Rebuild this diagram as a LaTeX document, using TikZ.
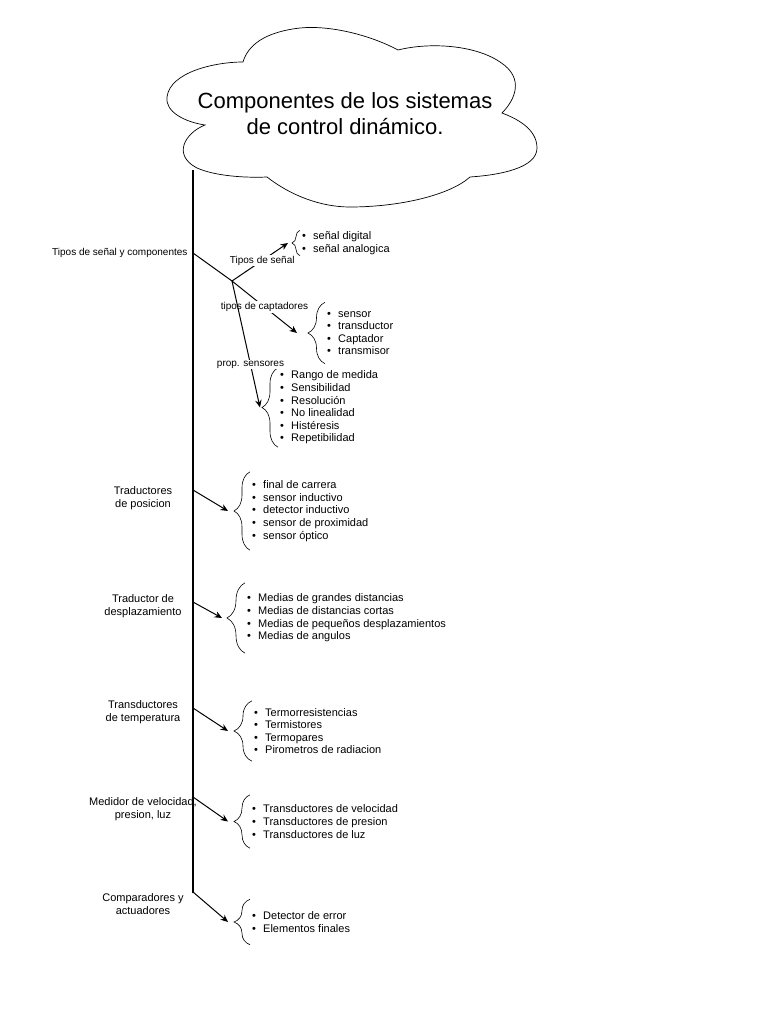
\documentclass[tikz,border=0pt]{standalone}
\usepackage{fontspec}
\setmainfont{Liberation Sans}
\usetikzlibrary{arrows.meta, decorations.pathreplacing, positioning}
\newcommand{\bul}{\makebox[11pt][l]{\textbullet}}

\begin{document}
\begin{tikzpicture}[x=1pt, y=-1pt,
    nube/.style={draw, line width=0.7pt},
    titulo/.style={align=center, font=\fontsize{22}{26}\selectfont},
    grupo/.style={align=center, font=\fontsize{11}{13}\selectfont},
    lista/.style={anchor=west, align=left, inner xsep=2pt, inner ysep=0pt, font=\fontsize{11}{12.6}\selectfont},
    etiq/.style={fill=white, inner sep=1pt, font=\fontsize{10}{12}\selectfont},
    arrow/.style={-{Stealth[length=7.5pt, width=6.5pt]}, line width=1pt},
    llave/.style={decorate, decoration={brace, amplitude=#1}, line width=0.6pt},
    llave/.default=16pt,
    tronco/.style={line width=2.2pt}
]
\useasboundingbox (0,0) rectangle (768,1024);

% nube del titulo
\path[nube] (243,62) .. controls (215,62) and (170,72) .. (167,97)
    .. controls (165,112) and (185,122) .. (205,125)
    .. controls (185,133) and (172,155) .. (197,168)
    .. controls (215,176) and (245,178) .. (267,177)
    .. controls (290,195) and (320,207) .. (350,207)
    .. controls (400,207) and (450,195) .. (470,177)
    .. controls (500,175) and (537,168) .. (537,148)
    .. controls (537,128) and (515,118) .. (502,113)
    .. controls (515,100) and (525,78) .. (500,62)
    .. controls (475,45) and (430,42) .. (398,50)
    .. controls (370,35) and (330,25) .. (300,28)
    .. controls (265,32) and (248,45) .. (243,62) -- cycle;
\node[titulo] (title) at (345,114) {Componentes de los sistemas\\de control dinámico.};
\coordinate (top) at (193,170);
\coordinate (bot) at (193,893);
\draw[tronco] (top) -- (bot);

% tipos de senal y componentes
\node[anchor=east, font=\fontsize{10}{12}\selectfont] (gTipos) at (191,253) {Tipos de señal y componentes};
\coordinate (t1) at (193,253);
\coordinate (jn) at (232,281);
\node[lista, minimum height=25] (senL) at (300,243) {\bul señal digital\\\bul señal analogica};
\node[lista, minimum height=61] (capL) at (325,333) {\bul sensor\\\bul transductor\\\bul Captador\\\bul transmisor};
\node[lista, minimum height=79] (propL) at (278,407.5) {\bul Rango de medida\\\bul Sensibilidad\\\bul Resolución\\\bul No linealidad\\\bul Histéresis\\\bul Repetibilidad};
\draw[llave=8pt] (senL.south west) -- (senL.north west);
\draw[llave=17pt] (capL.south west) -- (capL.north west);
\draw[llave] (propL.south west) -- (propL.north west);
\draw[arrow] (t1) -- (jn) -- node[etiq, pos=0.5] (eCap) {tipos de captadores} ([xshift=-28pt]capL.west);
\draw[arrow] (jn) -- node[etiq, pos=0.54] (eSen) {Tipos de señal} ([xshift=-12pt]senL.west);
\draw[arrow] (jn) -- node[etiq, pos=0.66] (eProp) {prop. sensores} ([xshift=-18pt]propL.west);

% traductores de posicion
\node[grupo] (gPos) at (143,498.5) {Traductores\\de posicion};
\coordinate (t2) at (193,490);
\node[lista, minimum height=78] (posL) at (250,511) {\bul final de carrera\\\bul sensor inductivo\\\bul detector inductivo\\\bul sensor de proximidad\\\bul sensor óptico};
\draw[llave] (posL.south west) -- (posL.north west);
\draw[arrow] (t2) -- ([xshift=-22pt]posL.west);

% traductor de desplazamiento
\node[grupo] (gDesp) at (143,606) {Traductor de\\desplazamiento};
\coordinate (t3) at (193,602);
\node[lista, minimum height=70] (despL) at (245,618) {\bul Medias de grandes distancias\\\bul Medias de distancias cortas\\\bul Medias de pequeños desplazamientos\\\bul Medias de angulos};
\draw[llave=18pt] (despL.south west) -- (despL.north west);
\draw[arrow] (t3) -- ([xshift=-23pt]despL.west);

% transductores de temperatura
\node[grupo] (gTemp) at (143,712.5) {Transductores\\de temperatura};
\coordinate (t4) at (193,708);
\node[lista, minimum height=60] (tempL) at (252,731) {\bul Termorresistencias\\\bul Termistores\\\bul Termopares\\\bul Pirometros de radiacion};
\draw[llave=18pt] (tempL.south west) -- (tempL.north west);
\draw[arrow] (t4) -- ([xshift=-24pt]tempL.west);

% medidor de velocidad, presion, luz
\node[grupo] (gVel) at (143,809.5) {Medidor de velocidad,\\presion, luz};
\coordinate (t5) at (193,797);
\node[lista, minimum height=53] (velL) at (250,821.5) {\bul Transductores de velocidad\\\bul Transductores de presion\\\bul Transductores de luz};
\draw[llave] (velL.south west) -- (velL.north west);
\draw[arrow] (t5) -- ([xshift=-22pt]velL.west);

% comparadores y actuadores
\node[grupo] (gComp) at (143,904.5) {Comparadores y\\actuadores};
\coordinate (t6) at (193,892);
\node[lista, minimum height=45] (compL) at (250,922) {\bul Detector de error\\\bul Elementos finales};
\draw[llave] (compL.south west) -- (compL.north west);
\draw[arrow] (t6) -- ([xshift=-22pt]compL.west);
\end{tikzpicture}
\end{document}
